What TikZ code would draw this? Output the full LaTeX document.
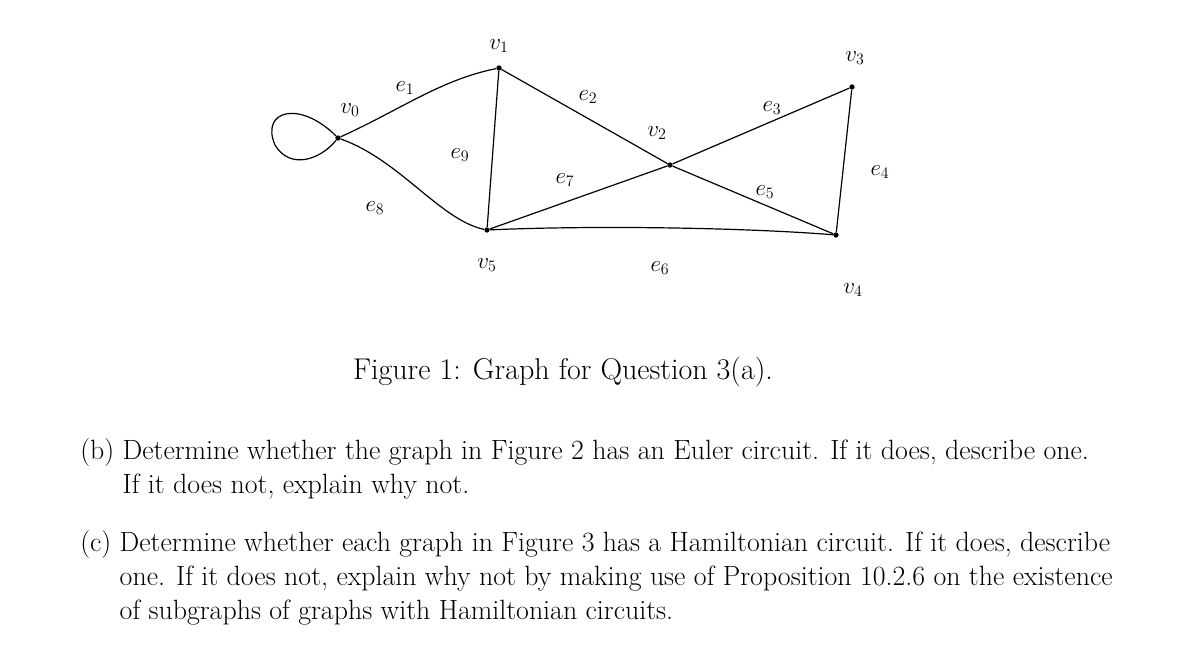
\documentclass[tikz,border=0pt]{standalone}
\begin{document}
\begin{tikzpicture}[x=0.75pt,y=-0.75pt,
  vtx/.style={circle,fill=black,inner sep=1.4pt},
  lbl/.style={font=\fontsize{17}{20}\selectfont},
  edge/.style={line width=0.9pt},
  txt/.style={font=\fontsize{20.9}{25.5}\selectfont,anchor=north west,align=left,inner sep=0pt}]
\useasboundingbox (0,0) rectangle (1178,654);
\node[vtx] (v0) at (338,138) {};
\node[vtx] (v1) at (499,68) {};
\node[vtx] (v2) at (670,165) {};
\node[vtx] (v3) at (852,87) {};
\node[vtx] (v4) at (836,235) {};
\node[vtx] (v5) at (487,230) {};
\draw[edge] (v0) .. controls (300,100) and (260,110) .. (275,145) .. controls (290,170) and (320,160) .. (v0);
\draw[edge] (v0) .. controls (400,110) and (440,80) .. (v1);
\draw[edge] (v0) .. controls (400,160) and (440,220) .. (v5);
\draw[edge] (v1) -- (v5);
\draw[edge] (v1) -- (v2);
\draw[edge] (v5) -- (v2);
\draw[edge] (v2) -- (v3);
\draw[edge] (v2) -- (v4);
\draw[edge] (v3) -- (v4);
\draw[edge] (v5) .. controls (600,225) and (750,228) .. (v4);
\node[lbl] (l1) at (499,46) {$v_1$};
\node[lbl] (l0) at (350,110) {$v_0$};
\node[lbl] (le1) at (405,88) {$e_1$};
\node[lbl] (le9) at (460,155) {$e_9$};
\node[lbl] (le8) at (375,208) {$e_8$};
\node[lbl] (l5) at (487,265) {$v_5$};
\node[lbl] (le2) at (588,97) {$e_2$};
\node[lbl] (le7) at (565,180) {$e_7$};
\node[lbl] (l2) at (657,133) {$v_2$};
\node[lbl] (le3) at (772,108) {$e_3$};
\node[lbl] (le5) at (765,192) {$e_5$};
\node[lbl] (l3) at (855,58) {$v_3$};
\node[lbl] (le4) at (880,172) {$e_4$};
\node[lbl] (l4) at (853,290) {$v_4$};
\node[lbl] (le6) at (660,268) {$e_6$};
\node[font=\fontsize{22.5}{25.5}\selectfont] (cap) at (563,372) {Figure 1: Graph for Question 3(a).};
\node[txt] (b) at (80,438) {(b) Determine whether the graph in Figure 2 has an Euler circuit. If it does, describe one.\\
\phantom{(b) }If it does not, explain why not.};
\node[txt] (c) at (80,530) {(c) Determine whether each graph in Figure 3 has a Hamiltonian circuit. If it does, describe\\
\phantom{(c) }one. If it does not, explain why not by making use of Proposition 10.2.6 on the existence\\
\phantom{(c) }of subgraphs of graphs with Hamiltonian circuits.};
\end{tikzpicture}
\end{document}
